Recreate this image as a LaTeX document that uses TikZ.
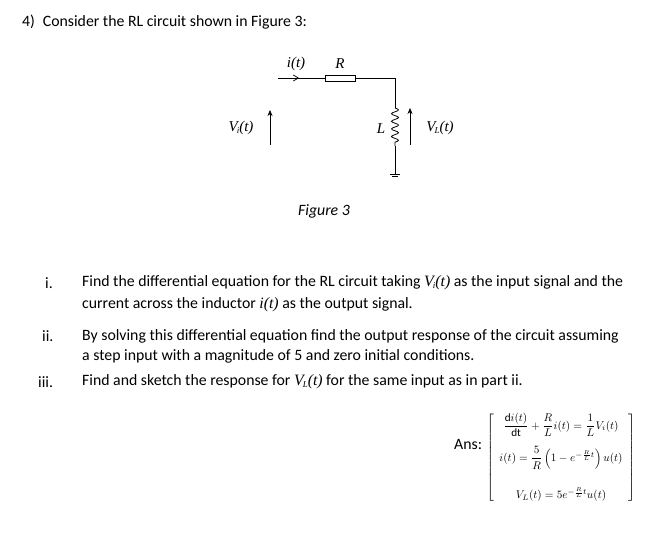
\documentclass[tikz,border=0pt]{standalone}
\usepackage{fontspec}
\usepackage{amsmath}
\usepackage{graphicx}
\setmainfont{Carlito}
\newfontfamily\tms{Liberation Serif}
\usetikzlibrary{arrows.meta,decorations.pathmorphing}
\begin{document}
\begin{tikzpicture}[x=1pt,y=-1pt,
  txt/.style={anchor=west,inner sep=0pt,font=\fontsize{15.8}{19}\selectfont},
  lbl/.style={inner sep=0pt,font=\tms\itshape\fontsize{15}{17}\selectfont},
  wire/.style={line width=0.8pt},
  varrow/.style={-{Stealth[length=6pt,width=5pt]},line width=0.6pt}]
\useasboundingbox[fill=white] (0,0) rectangle (666,557);
\node[txt] (q) at (22,22) {4)\enspace Consider the RL circuit shown in Figure 3:};
% circuit
\coordinate (a) at (278,78);
\coordinate (r1) at (325,78);
\coordinate (r2) at (355,78);
\coordinate (c) at (395,78);
\coordinate (l1) at (395,108);
\coordinate (l2) at (395,146);
\coordinate (g) at (395,174);
\draw[wire] (a) -- (r1) (r2) -- (c) -- (l1);
\draw[wire] (325,75) rectangle (355,81);
\draw[wire,decorate,decoration={coil,segment length=7.6pt,amplitude=3.5pt,aspect=0}] (l1) -- (l2);
\draw[wire] (l2) -- (g);
\draw[wire] (390,174) -- (400,174) (392,176) -- (398,176);
\draw[-{Straight Barb[length=5pt,width=6pt]},line width=0.7pt] (a) -- (299,78);
\draw[varrow] (270,145) -- (270,110);
\draw[varrow] (410,145) -- (410,108);
\node[lbl] (it) at (296,64) {i(t)};
\node[lbl] (R) at (340,64) {R};
\node[lbl] (Vi) at (241,128) {V\kern-1pt\raisebox{-2pt}{\fontsize{9}{10}\selectfont i}(t)};
\node[lbl] (L) at (381,129) {L};
\node[lbl] (VL) at (440,128) {V\kern-1pt\raisebox{-2pt}{\fontsize{9}{10}\selectfont L}(t)};
\node[inner sep=0pt,font=\itshape\fontsize{15.8}{19}\selectfont] (fig) at (324,211) {Figure 3};
% questions
\node[txt] (n1) at (45,283) {i.};
\node[txt] (t1) at (82,283) {Find the differential equation for the RL circuit taking {\tms\itshape V\kern-1pt\raisebox{-2pt}{\fontsize{9}{10}\selectfont i}(t)} as the input signal and the};
\node[txt] (t1b) at (82,305) {current across the inductor {\tms\itshape i(t)} as the output signal.};
\node[txt] (n2) at (42,336) {ii.};
\node[txt] (t2) at (82,336) {By solving this differential equation find the output response of the circuit assuming};
\node[txt] (t2b) at (82,356) {a step input with a magnitude of 5 and zero initial conditions.};
\node[txt] (n3) at (38,382) {iii.};
\node[txt] (t3) at (82,382) {Find and sketch the response for {\tms\itshape V\kern-1pt\raisebox{-2pt}{\fontsize{9}{10}\selectfont L}(t)} for the same input as in part ii.};
\node[txt] (ans) at (454,444) {Ans:};
\node[inner sep=0pt] (m) at (561,458) {\scalebox{1.12}{$\left[\begin{array}{c}
\dfrac{\mathrm{d}i(t)}{\mathrm{dt}}+\dfrac{R}{L}i(t)=\dfrac{1}{L}V_i(t)\\[12pt]
i(t)=\dfrac{5}{R}\left(1-e^{-\frac{R}{L}t}\right)u(t)\\[20pt]
V_L(t)=5e^{-\frac{R}{L}t}u(t)
\end{array}\right]$}};
\end{tikzpicture}
\end{document}
